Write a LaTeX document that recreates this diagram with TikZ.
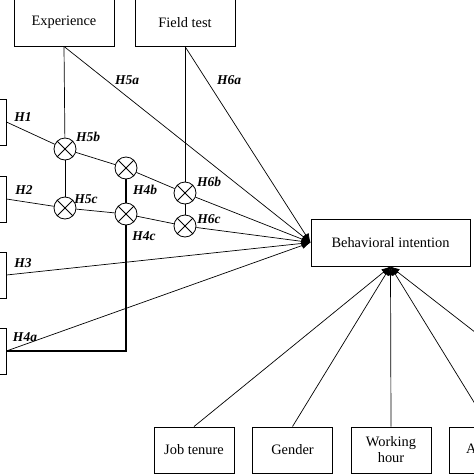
\documentclass[tikz,border=0pt]{standalone}
\usepackage{fontspec}
\setmainfont{Liberation Serif}
\usetikzlibrary{arrows.meta}
\begin{document}
\begin{tikzpicture}[x=1pt,y=-1pt,
 box/.style={draw,line width=0.9pt,minimum width=100pt,minimum height=47pt,inner sep=0pt,font=\fontsize{14.4}{16}\selectfont,align=center},
 sbox/.style={box,minimum width=80pt,minimum height=46pt},
 lbox/.style={box,minimum width=86pt,minimum height=46pt},
 lab/.style={font=\fontsize{13.5}{15}\selectfont\bfseries\itshape,inner sep=0pt},
 mult/.style={draw,circle,line width=0.8pt,minimum size=22pt,inner sep=0pt,
   path picture={\draw[line width=0.8pt] (path picture bounding box.north west)--(path picture bounding box.south east) (path picture bounding box.north east)--(path picture bounding box.south west);}},
 conn/.style={line width=0.7pt},
 thick conn/.style={line width=1.1pt},
 arr/.style={conn,-{Latex[length=9pt,width=7pt]}}]
\useasboundingbox (0,0) rectangle (474,474);
\clip (0,0) rectangle (474,474);
\fill[white] (0,0) rectangle (474,474);
% top boxes
\node[box] (exp) at (64,22.5) {Experience};
\node[box] (ft) at (185,22.5) {Field test};
% target
\node[box,minimum width=159pt] (bi) at (390.5,242.5) {Behavioral intention};
% left boxes (cropped)
\node[lbox] (x1) at (-37,122) {};
\node[lbox] (x2) at (-37,199) {};
\node[lbox] (x3) at (-37,275) {};
\node[lbox] (x4) at (-37,351) {};
% bottom boxes
\node[sbox] (jt) at (194,450) {Job tenure};
\node[sbox] (gd) at (292.5,450) {Gender};
\node[sbox] (wh) at (391,450) {Working\\hour};
\node[sbox,text width=46pt,align=left] (ag) at (489,450) {Age};
\coordinate (c5) at (597,427);
% multipliers
\node[mult] (m5b) at (65,149) {};
\node[mult] (m5c) at (65,208) {};
\node[mult] (m4b) at (126,168) {};
\node[mult] (m4c) at (126,214) {};
\node[mult] (m6b) at (185,193) {};
\node[mult] (m6c) at (185,226) {};
\coordinate (k4) at (126,351);
% moderator lines
\draw[conn] (exp.south) -- (m5b);
\draw[conn] (m5b) -- (m5c);
\draw[conn] (ft.south) -- (m6b);
\draw[conn] (m6b) -- (m6c);
\draw[thick conn] (x4.east) -- (k4) -- (m4c);
\draw[thick conn] (m4c) -- (m4b);
% main paths
\draw[arr] (exp.south) -- (bi.west);
\draw[arr] (ft.south) -- (bi.west);
\draw[conn] (x1.east) -- (m5b);
\draw[conn] (m5b) -- (m4b);
\draw[conn] (m4b) -- (m6b);
\draw[arr] (m6b) -- (bi.west);
\draw[conn] (x2.east) -- (m5c);
\draw[conn] (m5c) -- (m4c);
\draw[conn] (m4c) -- (m6c);
\draw[arr] (m6c) -- (bi.west);
\draw[arr] (x3.east) -- (bi.west);
\draw[arr] (x4.east) -- (bi.west);
% controls
\draw[arr] (jt.north) -- (bi.south);
\draw[arr] (gd.north) -- (bi.south);
\draw[arr] (wh.north) -- (bi.south);
\draw[arr] (ag.north) -- (bi.south);
\draw[arr] (c5) -- (bi.south);
% labels
\node[lab] (l5a) at (127,80) {H5a};
\node[lab] (l6a) at (229,80) {H6a};
\node[lab] (l1) at (23,117) {H1};
\node[lab] (l5b) at (88,137) {H5b};
\node[lab] (l2) at (24,190) {H2};
\node[lab] (l5c) at (86,199) {H5c};
\node[lab] (l4b) at (145,190) {H4b};
\node[lab] (l6b) at (209,182) {H6b};
\node[lab] (l6c) at (209,219) {H6c};
\node[lab] (l4c) at (144,236) {H4c};
\node[lab] (l3) at (23,263) {H3};
\node[lab] (l4a) at (25,337) {H4a};
\end{tikzpicture}
\end{document}
